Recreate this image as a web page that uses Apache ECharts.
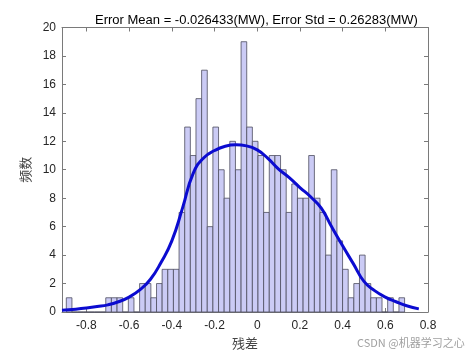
<!DOCTYPE html>
<html>
<head>
<meta charset="utf-8">
<script src="https://cdn.jsdelivr.net/npm/echarts@6/dist/echarts.min.js"></script>
<style>html,body{margin:0;padding:0;background:#fff;}#c{width:474px;height:355px;}</style>
</head>
<body>
<div id="c"></div>
<script>
// Histogram: 60 bins, first left edge and bin width
const binStart = -0.8943;
const binWidth = 0.02641;
const counts = [1,0,0,0,0,0,0,1,1,1, 0,1,0,2,2,1,2,3,3,3,
                7,13,11,15,17,6,13,10,8,12, 10,19,13,12,11,7,11,11,10,7,
                9,8,8,11,8,7,4,10,5,3, 1,2,4,2,1,1,0,1,0,1];
// Fitted density curve (x, frequency)
const curveX = [-0.9145,-0.85,-0.8,-0.75,-0.7,-0.65,-0.6,-0.55,-0.5,-0.45,-0.4,-0.35,-0.3,-0.25,-0.2,-0.15,-0.1,-0.05,0,0.05,0.1,0.15,0.2,0.25,0.3,0.35,0.4,0.45,0.5,0.55,0.6,0.65,0.7,0.757];
const curveY = [0.12,0.2,0.28,0.38,0.5,0.72,1.05,1.55,2.3,3.5,5.0,7.3,9.75,10.85,11.35,11.65,11.75,11.68,11.4,10.8,10.05,9.45,8.75,8.1,7.3,5.95,4.65,3.4,2.15,1.5,1.05,0.72,0.44,0.22];
const xTicks = [-0.8,-0.6,-0.4,-0.2,0,0.2,0.4,0.6,0.8];
const xTickLabels = ['-0.8','-0.6','-0.4','-0.2','0','0.2','0.4','0.6','0.8'];
const titleText = 'Error Mean = -0.026433(MW), Error Std = 0.26283(MW)';
const xName = '残差';
const yName = '频数';
const watermark = 'CSDN @机器学习之心';

const barData = counts.map((c, i) => [binStart + i * binWidth, binStart + (i + 1) * binWidth, c]);
const lineData = curveX.map((x, i) => [x, curveY[i]]);

const axisColor = '#7a7a7a';
const labelColor = '#262626';
const font = 'Liberation Sans, Arial, Helvetica, sans-serif';
const cjk = 'Noto Sans CJK SC, sans-serif';

const chart = echarts.init(document.getElementById('c'), null, {renderer: 'canvas'});
chart.setOption({
  animation: false,
  backgroundColor: '#fff',
  title: {
    text: titleText, left: 90, top: 9,
    textStyle: {fontFamily: font, fontSize: 13, fontWeight: 'normal', color: '#000'}
  },
  grid: {left: 62, right: 46, top: 27.5, bottom: 39},
  xAxis: [{
    type: 'value', min: -0.9145, max: 0.8, position: 'bottom',
    name: xName, nameLocation: 'middle', nameGap: 25,
    nameTextStyle: {fontFamily: cjk, fontSize: 13, color: '#444'},
    axisLine: {show: true, onZero: false, lineStyle: {color: axisColor, width: 1}},
    axisTick: {show: true, inside: true, length: 4, customValues: xTicks, lineStyle: {color: axisColor}},
    axisLabel: {customValues: xTicks, formatter: v => xTickLabels[xTicks.indexOf(+(+v).toFixed(1))] ?? String(v),
      fontFamily: font, fontSize: 12, color: labelColor, margin: 8},
    splitLine: {show: false}
  }, {
    type: 'value', min: -0.9145, max: 0.8, position: 'top',
    axisLine: {show: true, onZero: false, lineStyle: {color: axisColor, width: 1}},
    axisTick: {show: true, inside: true, length: 4, customValues: xTicks, lineStyle: {color: axisColor}},
    axisLabel: {show: false}, splitLine: {show: false}
  }],
  yAxis: [{
    type: 'value', min: 0, max: 20, interval: 2, position: 'left',
    name: yName, nameLocation: 'middle', nameGap: 27, nameRotate: 90,
    nameTextStyle: {fontFamily: cjk, fontSize: 13, color: '#444'},
    axisLine: {show: true, onZero: false, lineStyle: {color: axisColor, width: 1}},
    axisTick: {show: true, inside: true, length: 4, lineStyle: {color: axisColor}},
    axisLabel: {fontFamily: font, fontSize: 12, color: labelColor, margin: 6},
    splitLine: {show: false}
  }, {
    type: 'value', min: 0, max: 20, interval: 2, position: 'right',
    axisLine: {show: true, onZero: false, lineStyle: {color: axisColor, width: 1}},
    axisTick: {show: true, inside: true, length: 4, lineStyle: {color: axisColor}},
    axisLabel: {show: false}, splitLine: {show: false}
  }],
  series: [{
    type: 'custom',
    xAxisIndex: 0, yAxisIndex: 0,
    data: barData,
    encode: {x: [0, 1], y: 2},
    renderItem: function (params, api) {
      const p0 = api.coord([api.value(0), api.value(2)]);
      const p1 = api.coord([api.value(1), 0]);
      return {
        type: 'rect',
        shape: {x: p0[0], y: p0[1], width: p1[0] - p0[0], height: p1[1] - p0[1]},
        style: {fill: '#cbcbf5', stroke: '#4d4d5e', lineWidth: 0.8}
      };
    }
  }, {
    type: 'line',
    xAxisIndex: 0, yAxisIndex: 0,
    data: lineData, smooth: 0.5,
    symbol: 'none',
    lineStyle: {color: '#0b0bd0', width: 3}
  }],
  graphic: [{
    type: 'text', left: 357, top: 337,
    style: {text: watermark, fontFamily: cjk, fontSize: 11, fill: '#a0a0a0'}
  }]
});
</script>
</body>
</html>
